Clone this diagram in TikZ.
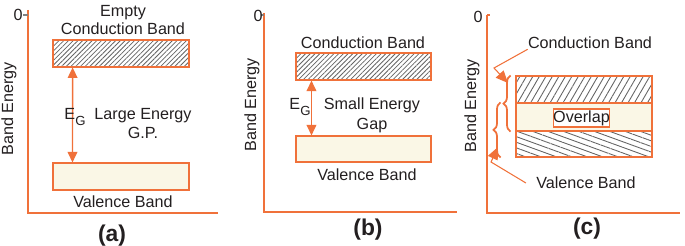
\documentclass[tikz,border=0pt]{standalone}
\usepackage{fontspec}
\setmainfont{Liberation Sans}
\usetikzlibrary{arrows.meta,patterns.meta,decorations.pathreplacing}
\definecolor{bandOrange}{RGB}{240,113,58}
\definecolor{bandCream}{RGB}{250,247,230}
\definecolor{hatchGray}{RGB}{100,100,100}
\definecolor{textDark}{RGB}{35,31,32}
\tikzset{
  band/.style={draw=bandOrange,line width=.6pt,minimum width=2.72cm,inner sep=0pt},
  axisline/.style={draw=bandOrange,line width=.8pt},
  gapArrow/.style={draw=bandOrange,line width=.8pt,{Triangle[length=6pt,width=5.5pt]}-{Triangle[length=6pt,width=5.5pt]}},
  leader/.style={draw=bandOrange,line width=.6pt,-{Triangle[length=7pt,width=6pt]}},
  bandBrace/.style={draw=bandOrange,line width=1pt,decorate,decoration={brace,amplitude=4pt}},
  lbl/.style={inner sep=0pt,align=center},
  yname/.style={inner sep=0pt,rotate=90},
  tag/.style={inner sep=0pt,font=\bfseries\fontsize{13}{14}\selectfont},
}
\begin{document}
\begin{tikzpicture}[x=0.02cm,y=-0.02cm,font=\fontsize{9.2}{10.3}\selectfont,text=textDark]
\useasboundingbox (0,0) rectangle (685,246);
% (a) insulator
\coordinate (topA) at (28,10);
\coordinate (endA) at (218,213);
\draw[axisline] (topA) |- (endA);
\draw[gray,line width=.6pt] (23,15) -- (28,15);
\node[lbl] (zeroA) at (18,15) {0};
\node[yname] (yA) at (9,109) {Band Energy};
\node[band,minimum height=0.54cm,pattern={Lines[angle=45,distance=1.9pt,line width=.45pt]},pattern color=hatchGray] (cbA) at (121,53.5) {};
\node[band,minimum height=0.54cm,fill=bandCream] (vbA) at (121,176.5) {};
\draw[gapArrow] ([xshift=0.4cm]cbA.south west) -- ([xshift=0.4cm]vbA.north west);
\node[lbl,font=\fontsize{9.2}{10.2}\selectfont] (cbLblA) at (123,20) {Empty\\Conduction Band};
\node[lbl] (egA) at (75,117) {E\raisebox{-0.35em}{\fontsize{7.5}{8}\selectfont G}};
\node[lbl,font=\fontsize{9.2}{10.8}\selectfont] (gapA) at (143,123.5) {Large Energy\\G.P.};
\node[lbl] (vbLblA) at (123,202) {Valence Band};
\node[tag] (tagA) at (112,236) {(a)};
% (b) semiconductor
\coordinate (topB) at (264,13);
\coordinate (endB) at (457,212);
\draw[axisline] (topB) |- (endB);
\draw[gray,line width=.6pt] (261,15) -- (264,15);
\node[lbl] (zeroB) at (258,16) {0};
\node[yname] (yB) at (252,105) {Band Energy};
\node[band,minimum width=2.7cm,minimum height=0.54cm,pattern={Lines[angle=45,distance=1.9pt,line width=.45pt]},pattern color=hatchGray] (cbB) at (363.5,66.5) {};
\node[band,minimum width=2.7cm,minimum height=0.52cm,fill=bandCream] (vbB) at (363.5,149) {};
\draw[gapArrow] ([xshift=0.32cm]cbB.south west) -- ([xshift=0.32cm]vbB.north west);
\node[lbl] (cbLblB) at (363,43) {Conduction Band};
\node[lbl] (egB) at (300,107) {E\raisebox{-0.35em}{\fontsize{7.5}{8}\selectfont G}};
\node[lbl,font=\fontsize{9.2}{11.3}\selectfont] (gapB) at (372,115) {Small Energy\\Gap};
\node[lbl] (vbLblB) at (367,175) {Valence Band};
\node[tag] (tagB) at (368,230) {(b)};
% (c) conductor
\coordinate (topC) at (487,15);
\coordinate (endC) at (680,213);
\draw[axisline] (topC) |- (endC);
\draw[axisline] (topC) -- (490,15);
\node[lbl] (zeroC) at (478,17) {0};
\node[yname] (yC) at (472,106) {Band Energy};
\node[band,minimum height=0.54cm,pattern={Lines[angle=60,distance=3.2pt,line width=.5pt]},pattern color=hatchGray] (cbC) at (584,89.5) {};
\node[band,minimum height=0.56cm,fill=bandCream] (ovC) at (584,117) {};
\node[band,minimum height=0.52cm,pattern={Lines[angle=-20,distance=3pt,line width=.5pt]},pattern color=hatchGray] (vbC) at (584,144) {};
\node[draw=bandOrange,line width=.6pt,fill=white,minimum width=1.1cm,minimum height=0.36cm,inner sep=0pt] (ovLbl) at (581.5,118) {Overlap};
\draw[bandBrace] ([xshift=-0.1cm]ovC.south west) -- ([xshift=-0.1cm]cbC.north west);
\draw[bandBrace] ([xshift=-0.3cm]vbC.south west) -- ([xshift=-0.3cm]ovC.north west);
\node[lbl] (cbLblC) at (590,43) {Conduction Band};
\node[lbl] (vbLblC) at (586,183) {Valence Band};
\coordinate (cbBend) at (494,68);
\coordinate (cbTip) at (508,83);
\coordinate (vbBend) at (491,162);
\coordinate (vbTip) at (498,147);
\draw[leader] (cbLblC.south west) -- (cbBend) -- (cbTip);
\draw[leader] ([xshift=-0.2cm]vbLblC.west) -- (vbBend) -- (vbTip);
\node[tag] (tagC) at (587,229) {(c)};
\end{tikzpicture}
\end{document}
